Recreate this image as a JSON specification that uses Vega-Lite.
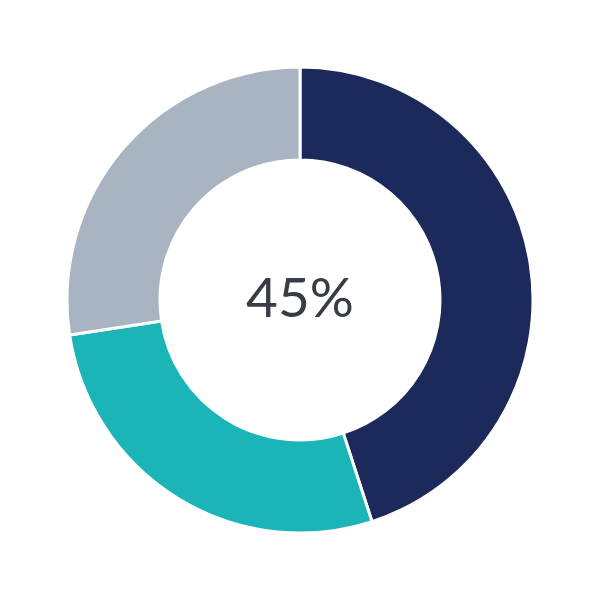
{
  "$schema": "https://vega.github.io/schema/vega-lite/v6.json",
  "width": 600,
  "height": 600,
  "autosize": {"type": "fit", "contains": "padding"},
  "padding": 0,
  "background": "white",
  "view": {"stroke": null},
  "data": {
    "values": [
      {"segment": "A", "value": 45, "order": 1},
      {"segment": "B", "value": 27.6, "order": 2},
      {"segment": "C", "value": 27.4, "order": 3}
    ]
  },
  "layer": [
    {
      "mark": {"type": "arc", "outerRadius": 233, "innerRadius": 140, "stroke": "white", "strokeWidth": 3},
      "encoding": {
        "theta": {"field": "value", "type": "quantitative", "stack": true},
        "order": {"field": "order", "type": "quantitative"},
        "color": {
          "field": "segment",
          "type": "nominal",
          "scale": {"domain": ["A", "B", "C"], "range": ["#1b2a5a", "#1bb5b7", "#a9b4c2"]},
          "legend": null
        }
      }
    },
    {
      "data": {"values": [{"label": "45%"}]},
      "mark": {"type": "text", "font": "Lato", "fontSize": 55, "color": "#383d45", "align": "center", "baseline": "middle", "dy": 0},
      "encoding": {
        "text": {"field": "label", "type": "nominal"}
      }
    }
  ]
}
